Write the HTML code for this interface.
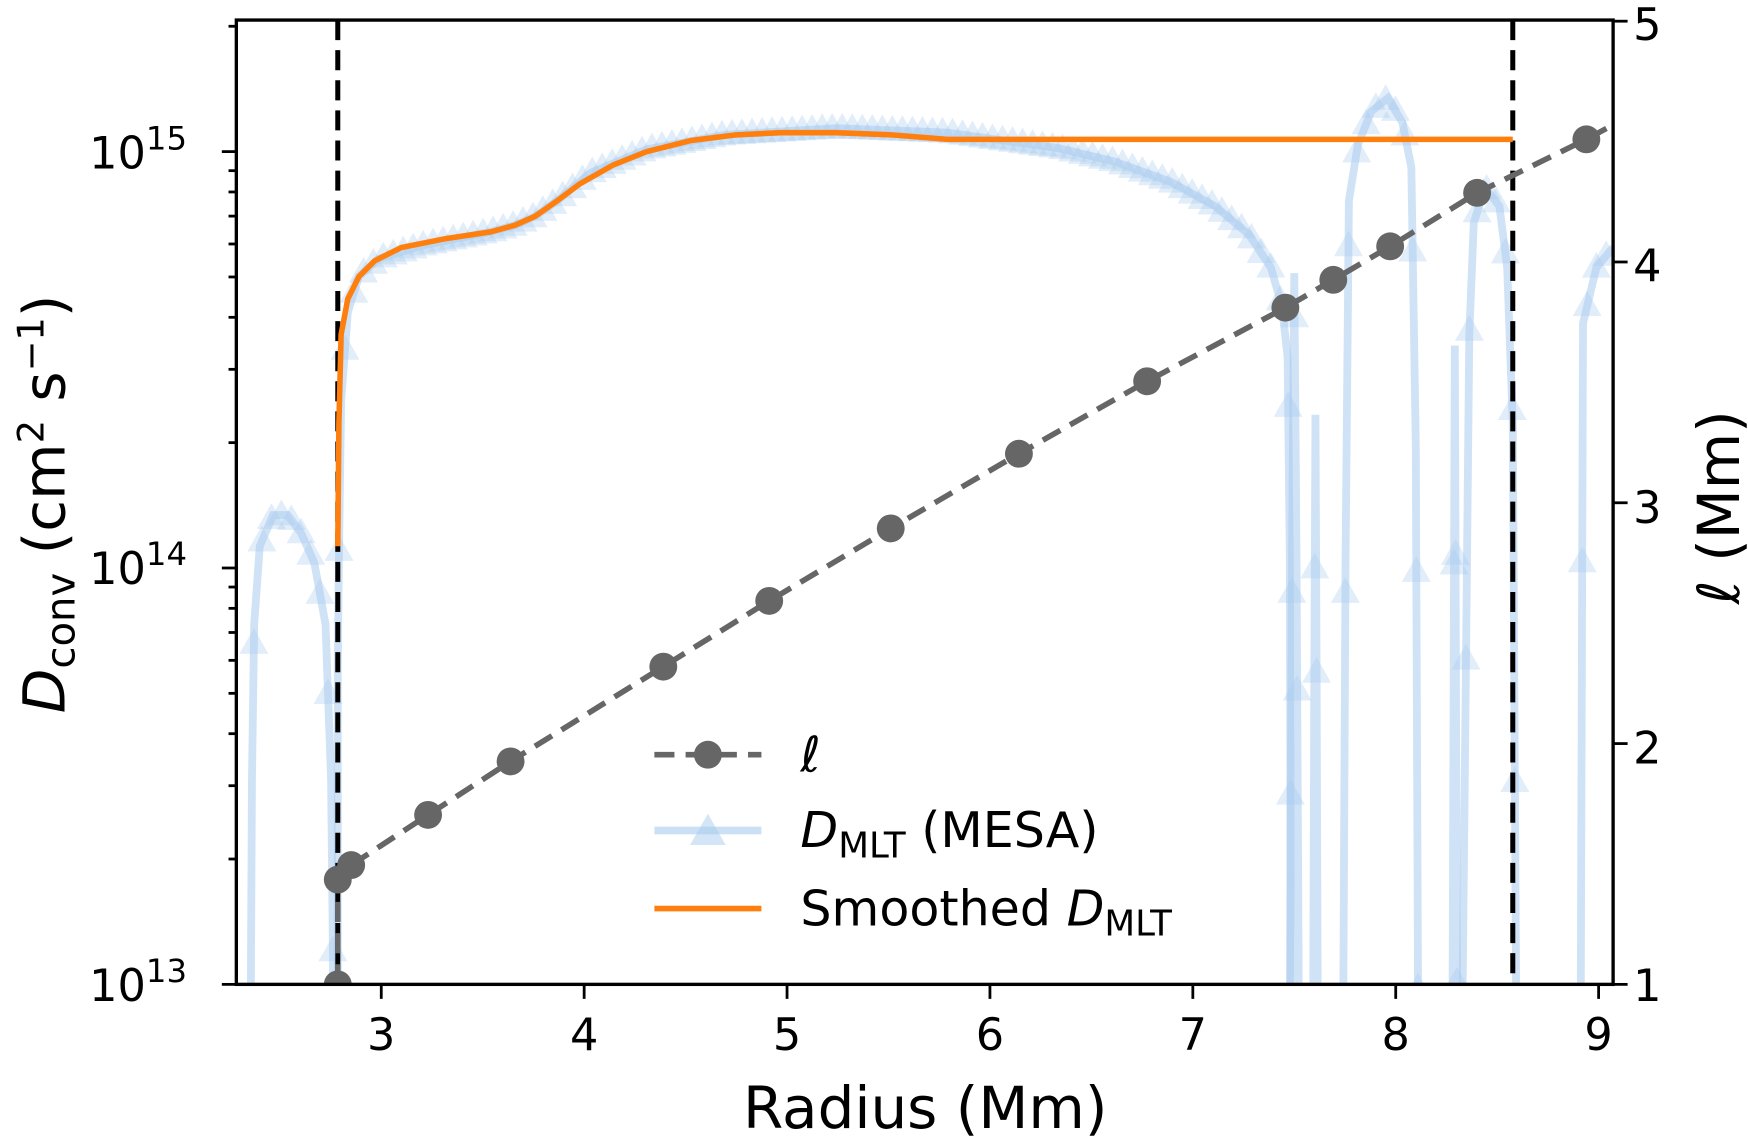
<!DOCTYPE html>
<html><head><meta charset="utf-8"><style>
html,body{margin:0;padding:0;background:#fff;}
svg{display:block;font-family:"DejaVu Sans","Liberation Sans",sans-serif;}
</style></head><body>
<svg id="s" width="1748" height="1140" viewBox="0 0 1568 1022.6" preserveAspectRatio="none" xmlns="http://www.w3.org/2000/svg">
<defs><clipPath id="c"><rect x="212" y="18" width="1235" height="865"/></clipPath></defs>
<g id="blue" clip-path="url(#c)" fill="none" stroke="#a8cbee" stroke-opacity="0.55" stroke-width="7"></g>
<g clip-path="url(#c)">
<line x1="303" y1="18" x2="303" y2="883" stroke="#000" stroke-width="4.5" stroke-dasharray="18,9"/>
<line x1="1357" y1="18" x2="1357" y2="883" stroke="#000" stroke-width="4.5" stroke-dasharray="18,9"/>
<polyline fill="none" stroke="#ff7f0e" stroke-width="5" points="303,490 304,380 306,300 312,268 322,248 336,234 360,222 400,214 440,208 462,202 480,194 500,180 520,165 550,148 580,136 620,126 660,121 700,119 750,119 800,121 850,125 900,125 1000,125 1357,125"/>
<polyline fill="none" stroke="#666" stroke-width="5" stroke-dasharray="18,10" points="303,883 303,789 315,776 384,731 458,683 595,598 690,539 799,474 914,407 1029,342 1153,276 1196,251 1247,221 1325,173 1423,125 1447,112"/>
<g fill="#666">
<circle cx="303" cy="883" r="12.5"/><circle cx="303" cy="789" r="12.5"/><circle cx="315" cy="776" r="12.5"/><circle cx="384" cy="731" r="12.5"/><circle cx="458" cy="683" r="12.5"/><circle cx="595" cy="598" r="12.5"/><circle cx="690" cy="539" r="12.5"/><circle cx="799" cy="474" r="12.5"/><circle cx="914" cy="407" r="12.5"/><circle cx="1029" cy="342" r="12.5"/><circle cx="1153" cy="276" r="12.5"/><circle cx="1196" cy="251" r="12.5"/><circle cx="1247" cy="221" r="12.5"/><circle cx="1325" cy="173" r="12.5"/><circle cx="1423" cy="125" r="12.5"/>
</g>
</g>
<g stroke="#000" stroke-width="3" fill="none">
<rect x="212" y="18" width="1235" height="865"/>
</g>
<g id="ticks" stroke="#000" stroke-width="2.5"></g>
<g font-size="40" fill="#000">
<text x="342" y="942" text-anchor="middle">3</text><text x="524" y="942" text-anchor="middle">4</text><text x="706" y="942" text-anchor="middle">5</text><text x="888" y="942" text-anchor="middle">6</text><text x="1070" y="942" text-anchor="middle">7</text><text x="1252" y="942" text-anchor="middle">8</text><text x="1434" y="942" text-anchor="middle">9</text>
<text x="80" y="151">10<tspan font-size="29" dy="-17">15</tspan></text>
<text x="80" y="524">10<tspan font-size="29" dy="-17">14</tspan></text>
<text x="80" y="898">10<tspan font-size="29" dy="-17">13</tspan></text>
<text x="1465" y="36">5</text><text x="1465" y="252">4</text><text x="1465" y="469">3</text><text x="1465" y="685">2</text><text x="1465" y="898">1</text>
</g>
<text x="830" y="1012" font-size="52" text-anchor="middle">Radius (Mm)</text>
<text transform="translate(58,452) rotate(-90)" font-size="52" text-anchor="middle"><tspan font-style="italic">D</tspan><tspan font-size="36" dy="9">conv</tspan><tspan dy="-9">  (cm</tspan><tspan font-size="33" dy="-19">2</tspan><tspan dy="19"> s</tspan><tspan font-size="33" dy="-19">−1</tspan><tspan dy="19">)</tspan></text>
<text transform="translate(1560,455) rotate(-90)" font-size="52" text-anchor="middle"><tspan font-style="italic">ℓ</tspan> (Mm)</text>
<g>
<line x1="587" y1="677" x2="683" y2="677" stroke="#666" stroke-width="5" stroke-dasharray="18,10"/><circle cx="635" cy="677" r="12.5" fill="#666"/>
<text x="718" y="692" font-size="44" font-style="italic">ℓ</text>
<line x1="587" y1="745" x2="683" y2="745" stroke="#a8cbee" stroke-opacity="0.6" stroke-width="7"/>
<polygon points="635,730 651,758 619,758" fill="#a8cbee" fill-opacity="0.5"/>
<text x="718" y="760" font-size="44"><tspan font-style="italic">D</tspan><tspan font-size="32" dy="9">MLT</tspan><tspan dy="-9"> (MESA)</tspan></text>
<line x1="587" y1="815" x2="683" y2="815" stroke="#ff7f0e" stroke-width="5"/>
<text x="718" y="830" font-size="44">Smoothed <tspan font-style="italic">D</tspan><tspan font-size="32" dy="9">MLT</tspan></text>
</g>
</svg>
<script>
(function(){
var NS="http://www.w3.org/2000/svg";
var blue=document.getElementById('blue');
var paths=[
"225,890 226,700 228,560 233,490 245,462 258,462 270,478 282,505 292,560 297,700 299,890",
"303,890 303,600 304,500 306,360 312,280 322,248 340,232 380,220 440,208 462,202 480,194 500,180 530,155 580,134 650,121 750,115 850,119 950,133 1000,145 1050,163 1090,185 1120,210 1140,240 1150,275 1155,320 1157,500 1158,890",
"1157,890 1159,500 1161,245 1163,500 1165,890",
"1178,890 1179,600 1180,372 1181,600 1182,890",
"1205,890 1207,500 1210,180 1218,130 1230,100 1245,88 1258,110 1266,150 1270,400 1272,890",
"1303,890 1305,310 1307,890",
"1312,890 1318,300 1322,200 1332,168 1345,185 1352,240 1357,380 1360,890",
"1418,890 1420,290 1432,240 1447,222"
];
paths.forEach(function(p){
 var pl=document.createElementNS(NS,'polyline');pl.setAttribute('points',p);blue.appendChild(pl);
 var pts=p.split(' ').map(function(s){return s.split(',').map(Number);});
 var acc=0,step=9;
 for(var i=1;i<pts.length;i++){
  var a=pts[i-1],b=pts[i],d=Math.abs(b[0]-a[0])+0.02*Math.abs(b[1]-a[1]);
  if(d<=0)continue;
  var t=step-acc;
  while(t<=d){var x=a[0]+(b[0]-a[0])*t/d,y=a[1]+(b[1]-a[1])*t/d;
   var tri=document.createElementNS(NS,'polygon');
   tri.setAttribute('points',(x)+','+(y-14)+' '+(x+13)+','+(y+9)+' '+(x-13)+','+(y+9));
   tri.setAttribute('fill','#a8cbee');tri.setAttribute('fill-opacity','0.35');tri.setAttribute('stroke','none');
   blue.appendChild(tri);t+=step;}
  acc=(acc+d)%step;
 }
});
var tk=document.getElementById('ticks'),h='';
[3,4,5,6,7,8,9].forEach(function(v){var x=342+(v-3)*182;h+='<line x1="'+x+'" y1="883" x2="'+x+'" y2="896"/>';});
for(var e=13;e<=15;e++){for(var m=1;m<10;m++){var y=883-373.5*((e-13)+Math.log10(m));if(y<18)break;h+='<line x1="'+(m==1?199:205)+'" y1="'+y+'" x2="212" y2="'+y+'"/>';}}
[1,2,3,4,5].forEach(function(v){var y=883-(v-1)*216;h+='<line x1="1447" y1="'+y+'" x2="1460" y2="'+y+'"/>';});
tk.innerHTML=h;
})();
</script>
</body></html>
